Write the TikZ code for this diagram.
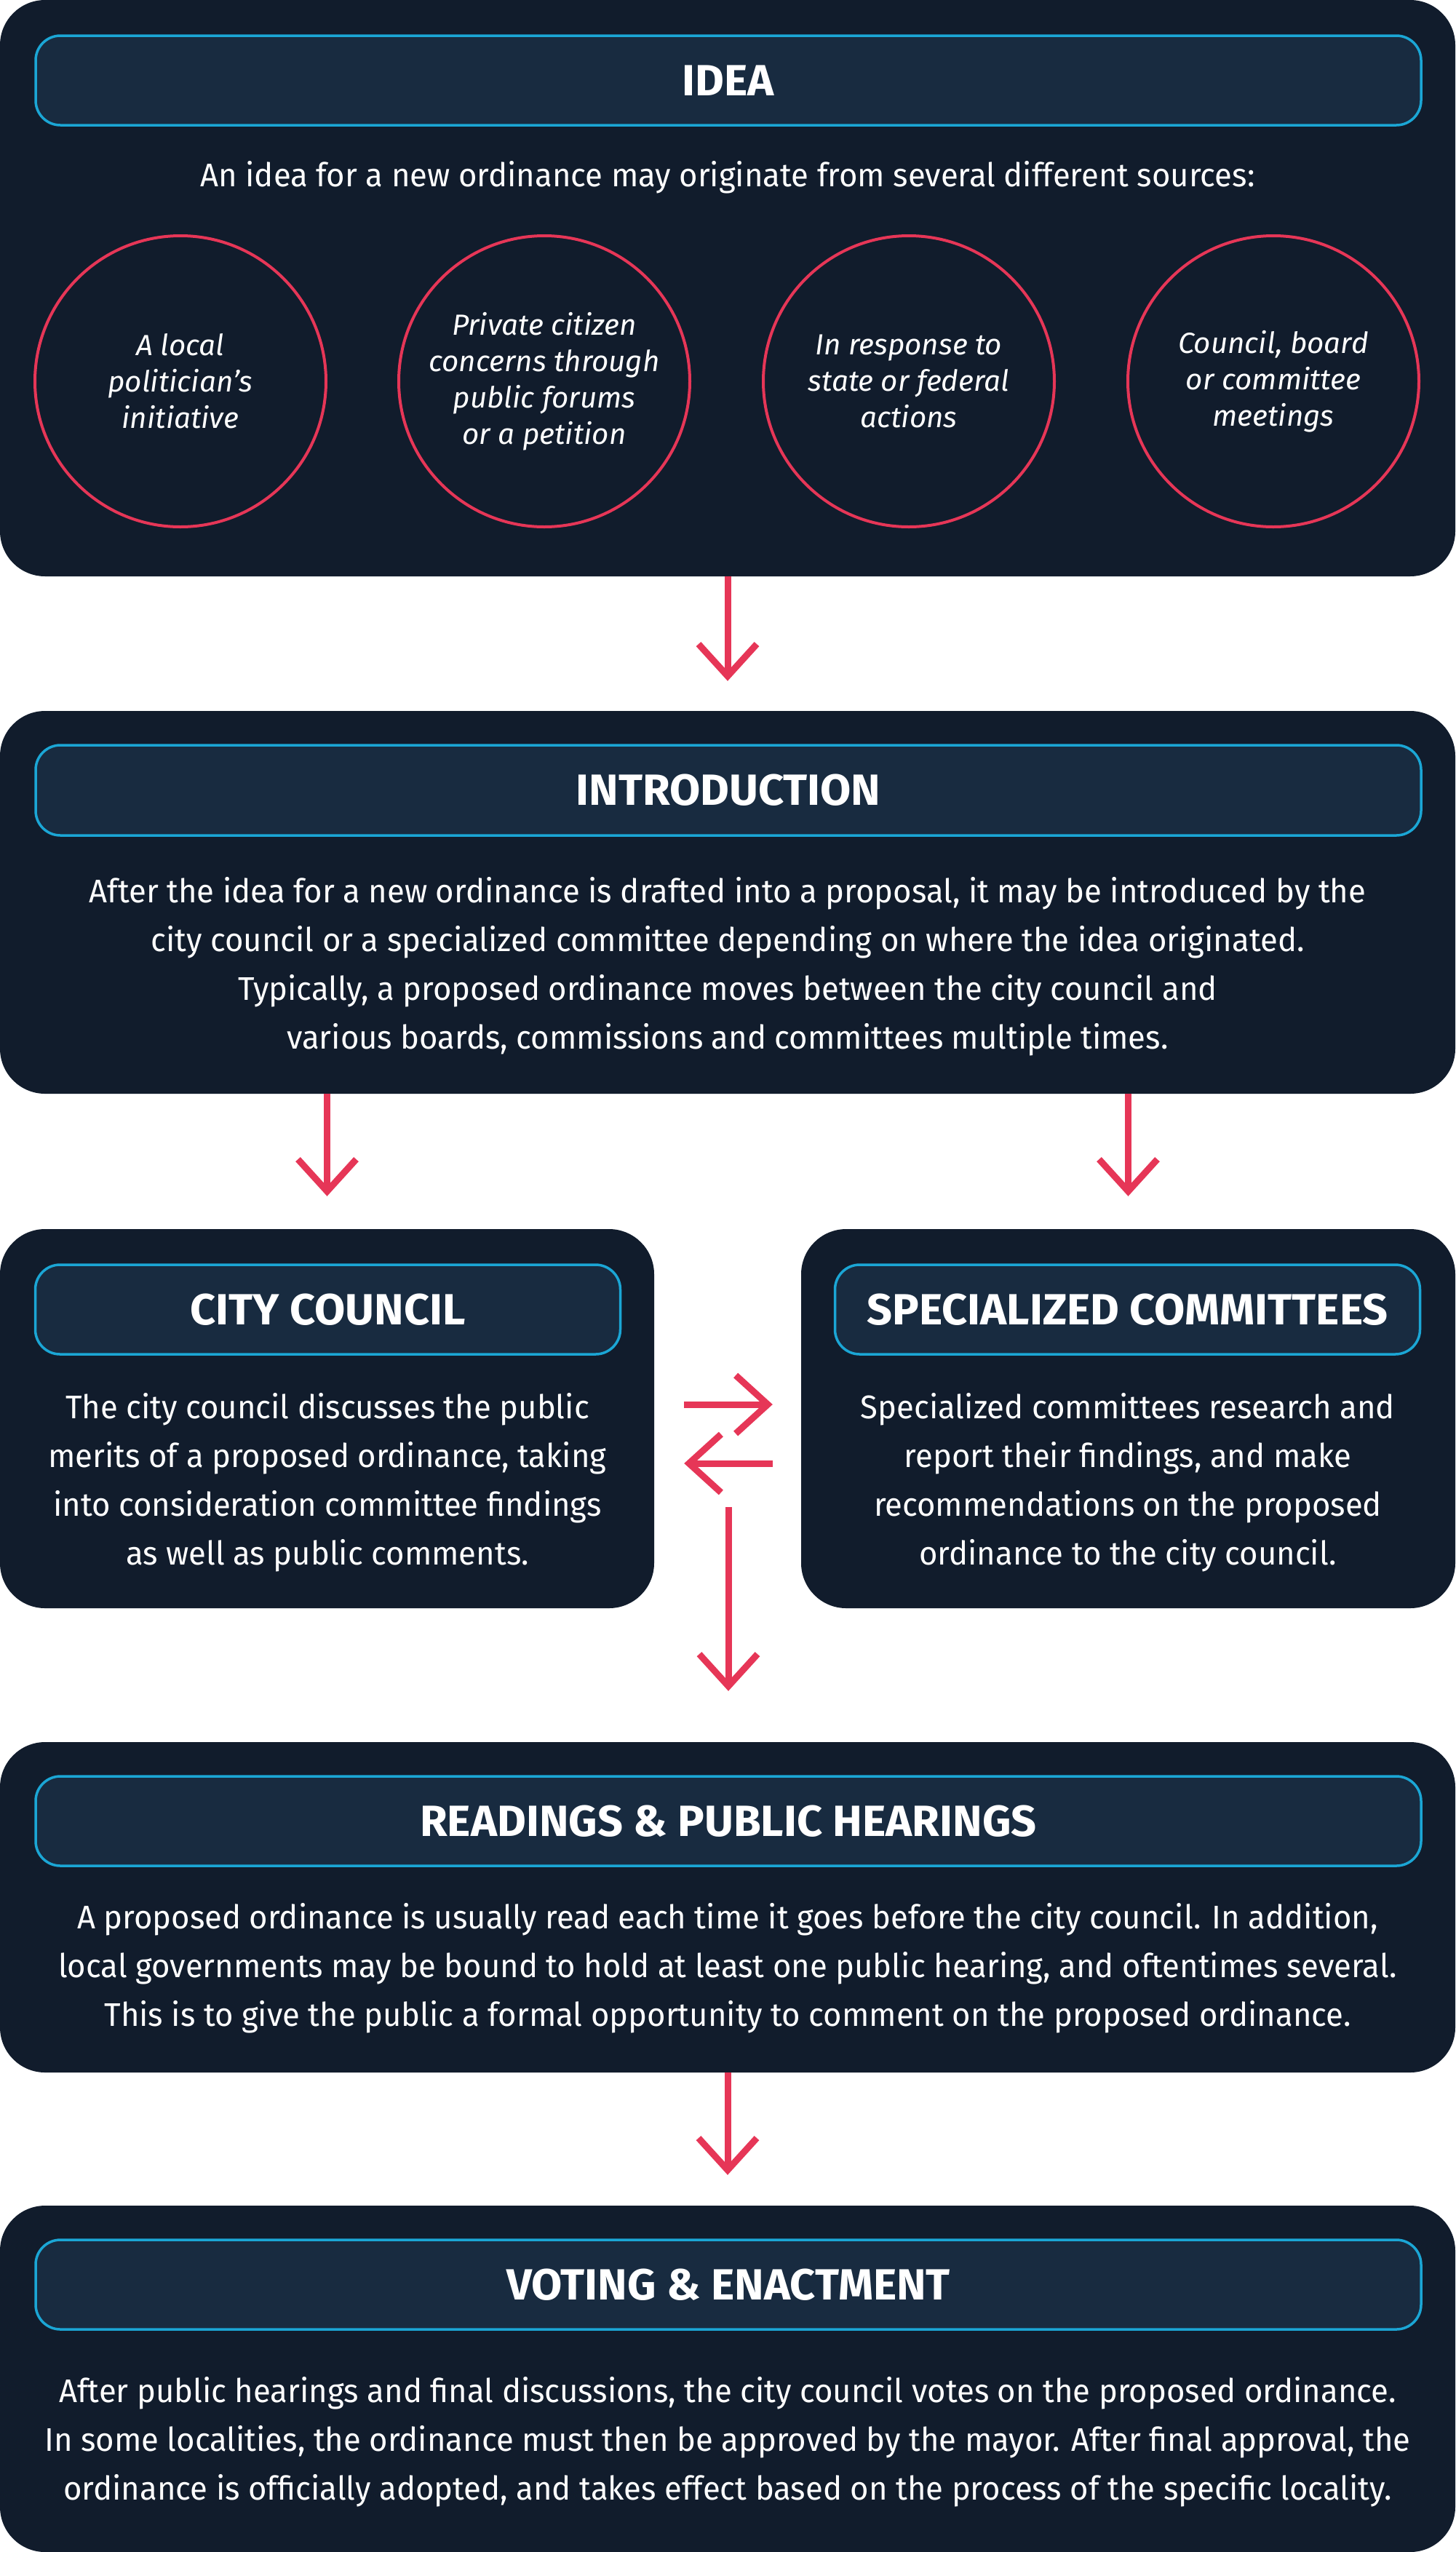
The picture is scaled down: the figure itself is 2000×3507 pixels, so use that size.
\documentclass[tikz,border=0pt]{standalone}
\usepackage{fontspec}
\usetikzlibrary{arrows.meta}
\newfontfamily\bodyf{Fira Sans}[FakeStretch=0.97]
\newfontfamily\itf{Fira Sans}[FakeStretch=1.01]
\newfontfamily\titlef{Fira Sans}[FakeStretch=1.02]
\definecolor{navy}{HTML}{111C2C}
\definecolor{hdr}{HTML}{182B40}
\definecolor{cyanb}{HTML}{1BA6D5}
\definecolor{redc}{HTML}{E63657}
\tikzset{
  outerbox/.style={fill=navy, rounded corners=62pt, inner sep=0pt},
  hdrbox/.style={fill=hdr, draw=cyanb, line width=3.5pt, rounded corners=34pt, inner sep=0pt,
    text=white, font=\titlef\bfseries\fontsize{60}{60}\selectfont},
  bodytxt/.style={text=white, align=center, inner sep=0pt, font=\bodyf\fontsize{45}{67}\selectfont},
  srcircle/.style={circle, draw=redc, line width=4pt, minimum size=400pt, inner sep=0pt,
    text=white, align=center, font=\itf\itshape\fontsize{40}{50}\selectfont},
  arr/.style={draw=redc, line width=9pt, -{Straight Barb[length=44pt, width=80pt]}}
}
\begin{document}
\begin{tikzpicture}[x=1pt,y=-1pt]
\useasboundingbox (0,0) rectangle (2000,3507);
% IDEA
\node[outerbox, minimum width=2000pt, minimum height=792pt] (idea) at (1000,396) {};
\node[hdrbox, minimum width=1904pt, minimum height=123pt] (ideah) at (1001,110.5) {IDEA};
\node[bodytxt] (ideat) at (1000,244) {An idea for a new ordinance may originate from several different sources:};
\node[srcircle] (c1) at (248,524) {A local\\politician’s\\initiative};
\node[srcircle] (c2) at (748,524) {Private citizen\\concerns through\\public forums\\or a petition};
\node[srcircle] (c3) at (1249,524) {In response to\\state or federal\\actions};
\node[srcircle] (c4) at (1750,524) {Council, board\\or committee\\meetings};
% INTRODUCTION
\node[outerbox, minimum width=2000pt, minimum height=526pt] (intro) at (1000,1240) {};
\node[hdrbox, minimum width=1904pt, minimum height=124pt] (introh) at (1001,1086) {INTRODUCTION};
\node[bodytxt] (introt) at (1000,1328) {After the idea for a new ordinance is drafted into a proposal, it may be introduced by the\\city council or a specialized committee depending on where the idea originated.\\Typically, a proposed ordinance moves between the city council and\\various boards, commissions and committees multiple times.};
% CITY COUNCIL
\node[outerbox, minimum width=899pt, minimum height=521pt] (city) at (449.5,1949.5) {};
\node[hdrbox, minimum width=804pt, minimum height=123pt] (cityh) at (450.5,1799.5) {CITY COUNCIL};
\node[bodytxt] (cityt) at (450,2037) {The city council discusses the public\\merits of a proposed ordinance, taking\\into consideration committee findings\\as well as public comments.};
% SPECIALIZED COMMITTEES
\node[outerbox, minimum width=899pt, minimum height=521pt] (spec) at (1550.5,1949.5) {};
\node[hdrbox, minimum width=804pt, minimum height=123pt] (spech) at (1549.5,1799.5) {SPECIALIZED COMMITTEES};
\node[bodytxt] (spect) at (1550,2037) {Specialized committees research and\\report their findings, and make\\recommendations on the proposed\\ordinance to the city council.};
% READINGS
\node[outerbox, minimum width=2000pt, minimum height=454pt] (read) at (1000,2621) {};
\node[hdrbox, minimum width=1904pt, minimum height=123pt] (readh) at (1001,2502.5) {READINGS \& PUBLIC HEARINGS};
\node[bodytxt] (readt) at (1000,2705) {A proposed ordinance is usually read each time it goes before the city council. In addition,\\local governments may be bound to hold at least one public hearing, and oftentimes several.\\This is to give the public a formal opportunity to comment on the proposed ordinance.};
% VOTING
\node[outerbox, minimum width=2000pt, minimum height=476pt] (vote) at (1000,3269) {};
\node[hdrbox, minimum width=1904pt, minimum height=123pt] (voteh) at (1001,3139.5) {VOTING \& ENACTMENT};
\node[bodytxt] (votet) at (1000,3356) {After public hearings and final discussions, the city council votes on the proposed ordinance.\\In some localities, the ordinance must then be approved by the mayor. After final approval, the\\ordinance is officially adopted, and takes effect based on the process of the specific locality.};
% connectors
\draw[arr, shorten >=41pt] (idea.south) -- (intro.north);
\draw[arr, shorten >=45pt] (intro.south -| city.north) -- (city.north);
\draw[arr, shorten >=45pt] (intro.south -| spec.north) -- (spec.north);
\draw[arr, shorten <=41pt, shorten >=39pt] (city.east |- 0,1930) -- (spec.west |- 0,1930);
\draw[arr, shorten <=39pt, shorten >=41pt] (spec.west |- 0,2011) -- (city.east |- 0,2011);
\coordinate (dstart) at (1001,2071);
\draw[arr, shorten >=70pt] (dstart) -- (dstart |- read.north);
\draw[arr, shorten >=42pt] (read.south) -- (vote.north);
\end{tikzpicture}
\end{document}
